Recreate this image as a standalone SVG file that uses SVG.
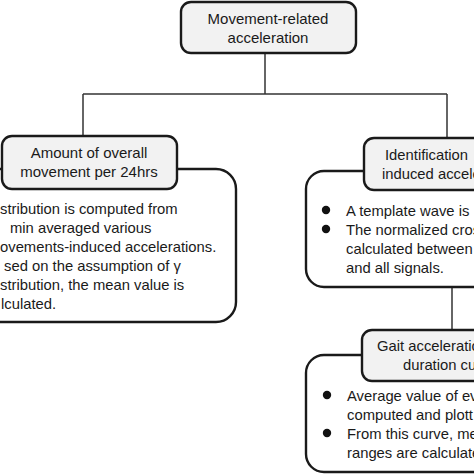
<svg xmlns="http://www.w3.org/2000/svg" width="474" height="474" viewBox="0 0 474 474">
<style>
text{font-family:"Liberation Sans",Arial,sans-serif;font-size:14.8px;fill:#1a1a1a}
.c{text-anchor:middle;font-size:15px}
.hdr{fill:#f2f2f2;stroke:#1a1a1a;stroke-width:2.4}
.box{fill:#fff;stroke:#1a1a1a;stroke-width:2.4}
.ln{stroke:#333;stroke-width:1.5;fill:none}
.dot{fill:#111}
</style>
<rect width="474" height="474" fill="#fff"/>
<g id="connectors">
<line class="ln" x1="265" y1="53" x2="265" y2="94"/>
<line class="ln" x1="83" y1="94" x2="447" y2="94"/>
<line class="ln" x1="83" y1="94" x2="83" y2="137"/>
<line class="ln" x1="447" y1="94" x2="447" y2="138"/>
<line class="ln" x1="452" y1="287" x2="452" y2="330"/>
</g>
<g id="root">
<rect class="hdr" x="181" y="2" width="175" height="51" rx="10"/>
<text class="c" x="268" y="24">Movement-related</text>
<text class="c" x="268" y="43">acceleration</text>
</g>
<g id="amount">
<rect class="box" x="-30" y="169" width="266" height="153" rx="20"/>
<rect class="hdr" x="2" y="136" width="175" height="53" rx="10"/>
<text class="c" x="89" y="158">Amount of overall</text>
<text class="c" x="89" y="177">movement per 24hrs</text>
<text x="0" y="214">stribution is computed from</text>
<text x="10" y="233">min averaged various</text>
<text x="0" y="252">ovements-induced accelerations.</text>
<text x="4" y="271">sed on the assumption of  γ</text>
<text x="0" y="290">stribution, the mean value is</text>
<text x="1" y="309">lculated.</text>
</g>
<g id="identification">
<rect class="box" x="306" y="171" width="200" height="116" rx="18"/>
<rect class="hdr" x="364" y="138" width="150" height="52" rx="10"/>
<text x="385" y="160">Identification</text>
<text x="382" y="179">induced accele</text>
<circle class="dot" cx="326" cy="210" r="4.2"/>
<circle class="dot" cx="326" cy="229" r="4.2"/>
<text x="346" y="216">A template wave is</text>
<text x="346" y="235">The normalized cros</text>
<text x="346" y="254">calculated between</text>
<text x="346" y="273">and all signals.</text>
</g>
<g id="gait">
<rect class="box" x="306" y="355" width="200" height="117" rx="18"/>
<rect class="hdr" x="362" y="330" width="150" height="51" rx="10"/>
<text x="377" y="351">Gait acceleratio</text>
<text x="403" y="370">duration cu</text>
<circle class="dot" cx="327" cy="395" r="4.2"/>
<circle class="dot" cx="327" cy="433" r="4.2"/>
<text x="347" y="401">Average value of ev</text>
<text x="347" y="420">computed and plott</text>
<text x="347" y="439">From this curve, me</text>
<text x="347" y="458">ranges are calculate</text>
</g>
</svg>
